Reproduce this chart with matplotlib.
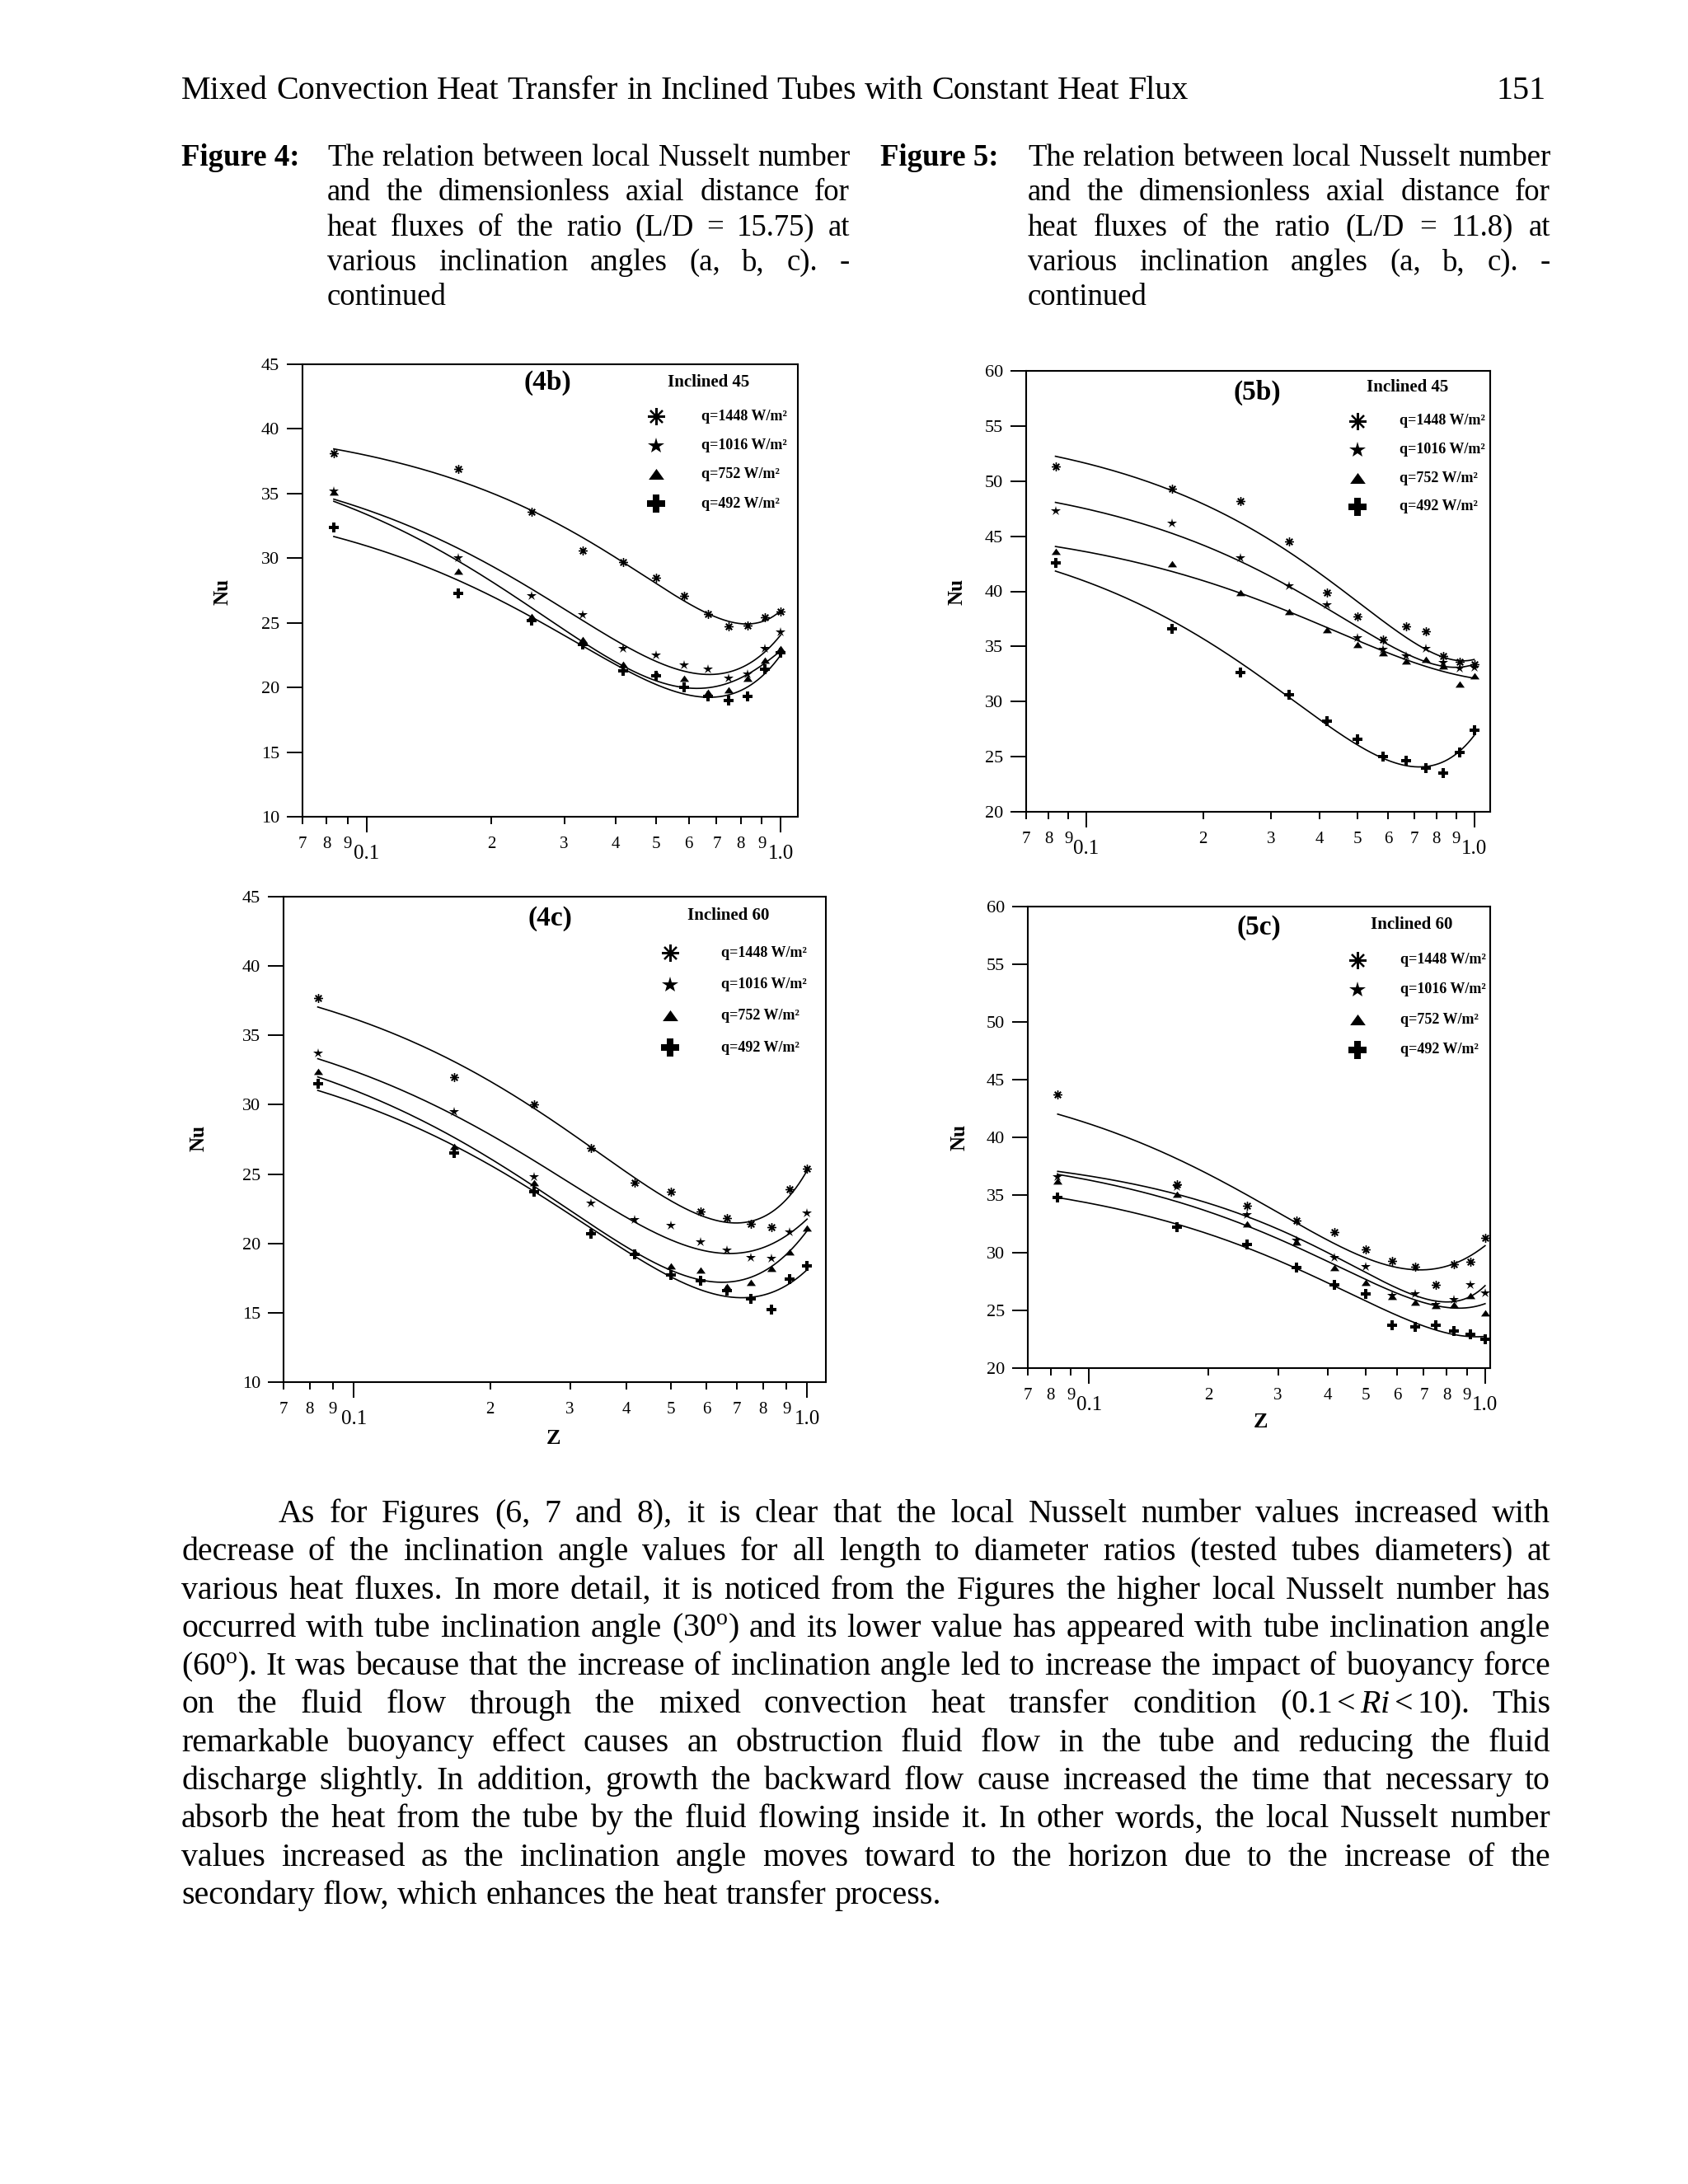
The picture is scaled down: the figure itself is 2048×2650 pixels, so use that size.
import numpy as np
import matplotlib
matplotlib.use('Agg')
import matplotlib.pyplot as plt

plt.rcParams['font.family'] = ['Liberation Serif', 'DejaVu Serif']
plt.rcParams['mathtext.fontset'] = 'custom'
plt.rcParams['mathtext.rm'] = 'Liberation Serif'
plt.rcParams['mathtext.it'] = 'Liberation Serif:italic'
plt.rcParams['mathtext.bf'] = 'Liberation Serif:bold'

# dimensionless axial distance Z (same stations in every panel)
z = [0.0833, 0.1667, 0.25, 0.3333, 0.4167, 0.5, 0.5833, 0.6667, 0.75, 0.8333, 0.9167, 1.0]
flux_labels = ['q=1448 W/m²', 'q=1016 W/m²', 'q=752 W/m²', 'q=492 W/m²']

# Fig 4b, L/D = 15.75, inclined 45
nu_4b_1448 = [38.1, 36.9, 33.6, 30.6, 29.7, 28.5, 27.1, 25.7, 24.7, 24.8, 25.4, 25.9]
nu_4b_1016 = [35.2, 30.0, 27.1, 25.6, 23.0, 22.5, 21.7, 21.4, 20.7, 21.0, 23.0, 24.3]
nu_4b_752 = [35.1, 29.0, 25.5, 23.7, 21.8, 21.1, 20.7, 19.6, 19.8, 20.7, 22.1, 23.0]
nu_4b_492 = [32.4, 27.3, 25.2, 23.3, 21.3, 20.9, 20.0, 19.3, 19.0, 19.3, 21.4, 22.7]

# Fig 5b, L/D = 11.8, inclined 45
nu_5b_1448 = [51.3, 49.3, 48.2, 44.5, 39.9, 37.7, 35.6, 36.8, 36.4, 34.1, 33.6, 33.4]
nu_5b_1016 = [47.3, 46.2, 43.0, 40.5, 38.8, 35.8, 34.7, 34.1, 34.8, 33.5, 33.0, 33.1]
nu_5b_752 = [43.6, 42.5, 39.9, 38.2, 36.5, 35.2, 34.4, 33.7, 33.8, 33.2, 31.6, 32.3]
nu_5b_492 = [42.6, 36.6, 32.6, 30.6, 28.2, 26.6, 25.0, 24.6, 24.0, 23.5, 25.4, 27.4]

# Fig 4c, L/D = 15.75, inclined 60
nu_4c_1448 = [37.7, 32.0, 30.0, 26.9, 24.4, 23.7, 22.3, 21.8, 21.4, 21.2, 23.9, 25.4]
nu_4c_1016 = [33.7, 29.5, 24.8, 22.9, 21.7, 21.3, 20.1, 19.5, 19.0, 18.9, 20.8, 22.2]
nu_4c_752 = [32.4, 27.0, 24.4, 20.9, 19.4, 18.4, 18.1, 16.9, 17.2, 18.2, 19.4, 21.1]
nu_4c_492 = [31.5, 26.5, 23.7, 20.7, 19.2, 17.7, 17.3, 16.6, 16.0, 15.2, 17.4, 18.4]

# Fig 5c, L/D = 11.8, inclined 60
nu_5c_1448 = [43.7, 35.9, 34.1, 32.8, 31.8, 30.3, 29.3, 28.8, 27.2, 29.0, 29.2, 31.3]
nu_5c_1016 = [36.6, 35.7, 33.3, 31.1, 29.6, 28.8, 26.3, 26.4, 25.5, 25.9, 27.2, 26.5]
nu_5c_752 = [36.2, 35.1, 32.5, 30.9, 28.7, 27.4, 26.2, 25.7, 25.4, 25.5, 26.3, 24.8]
nu_5c_492 = [34.8, 32.2, 30.7, 28.7, 27.2, 26.4, 23.7, 23.6, 23.7, 23.2, 22.9, 22.5]

minor_ticks = [0.07, 0.08, 0.09, 0.2, 0.3, 0.4, 0.5, 0.6, 0.7, 0.8, 0.9]
minor_labels = ['7', '8', '9', '2', '3', '4', '5', '6', '7', '8', '9']
major_ticks = [0.1, 1.0]
major_labels = ['0.1', '1.0']

W, H = 2048, 2650
fig = plt.figure(figsize=(W / 100, H / 100), dpi=100)

tri = [(-1, -0.7), (1, -0.7), (0, 0.7)]
# marker styles: data size, legend size
styles = [
    dict(marker=(8, 2, 0), ms=7.5, mew=1.0, lms=15, lmew=1.6),
    dict(marker='*', ms=9, mew=0, lms=15, lmew=0),
    dict(marker=tri, ms=8, mew=0, lms=13.5, lmew=0),
    dict(marker='P', ms=9, mew=0, lms=16.5, lmew=0),
]

panels = [
    dict(box=(367, 442, 968, 991), ylim=(10, 45), xmax=1.10, tag='(4b)', title='Inclined 45',
         tag_xy=(0.494, 0.960), title_xy=(0.820, 0.960), leg_x=(0.714, 0.806),
         leg_y=[0.885, 0.820, 0.757, 0.692], nu_xy=(270, 718), z_xy=None,
         series=[nu_4b_1448, nu_4b_1016, nu_4b_752, nu_4b_492]),
    dict(box=(1245, 450, 1808, 985), ylim=(20, 60), xmax=1.10, tag='(5b)', title='Inclined 45',
         tag_xy=(0.498, 0.951), title_xy=(0.821, 0.962), leg_x=(0.714, 0.805),
         leg_y=[0.886, 0.821, 0.757, 0.692], nu_xy=(1161, 718), z_xy=None,
         series=[nu_5b_1448, nu_5b_1016, nu_5b_752, nu_5b_492]),
    dict(box=(344, 1088, 1002, 1677), ylim=(10, 45), xmax=1.10, tag='(4c)', title='Inclined 60',
         tag_xy=(0.491, 0.955), title_xy=(0.820, 0.961), leg_x=(0.713, 0.807),
         leg_y=[0.884, 0.819, 0.755, 0.689], nu_xy=(241, 1381), z_xy=(672, 1746),
         series=[nu_4c_1448, nu_4c_1016, nu_4c_752, nu_4c_492]),
    dict(box=(1247, 1100, 1808, 1660), ylim=(20, 60), xmax=1.03, tag='(5c)', title='Inclined 60',
         tag_xy=(0.500, 0.955), title_xy=(0.830, 0.960), leg_x=(0.713, 0.805),
         leg_y=[0.884, 0.820, 0.755, 0.690], nu_xy=(1164, 1380), z_xy=(1529, 1726),
         series=[nu_5c_1448, nu_5c_1016, nu_5c_752, nu_5c_492]),
]

zz = np.linspace(z[0], z[-1], 300)
for p in panels:
    l, t, r, b = p['box']
    ax = fig.add_axes([l / W, 1 - b / H, (r - l) / W, (b - t) / H])
    ax.set_xscale('log')
    ax.set_xlim(0.07, p['xmax'])
    ax.set_ylim(*p['ylim'])
    ax.set_yticks(np.arange(p['ylim'][0], p['ylim'][1] + 1, 5))
    ax.set_xticks(major_ticks, major_labels)
    ax.set_xticks(minor_ticks, minor_labels, minor=True)
    ax.tick_params(axis='x', which='major', length=13.7, width=1.4, pad=11, labelsize=18)
    ax.tick_params(axis='x', which='minor', length=6.5, width=1.4, pad=10.5, labelsize=15)
    ax.tick_params(axis='y', length=14, width=1.4, pad=6, labelsize=16)
    for s in ax.spines.values():
        s.set_linewidth(1.5)

    for nu, st in zip(p['series'], styles):
        # cubic regression curve through the measured points
        c = np.polyfit(z, nu, 3)
        ax.plot(zz, np.polyval(c, zz), color='black', lw=1.2)
        ax.plot(z, nu, ls='none', marker=st['marker'], ms=st['ms'], mew=st['mew'],
                color='black', mec='black')

    ax.text(*p['tag_xy'], p['tag'], transform=ax.transAxes, ha='center', va='center',
            fontsize=24, weight='bold')
    ax.text(*p['title_xy'], p['title'], transform=ax.transAxes, ha='center', va='center',
            fontsize=15, weight='bold')
    for lab, st, yy in zip(flux_labels, styles, p['leg_y']):
        ax.plot([p['leg_x'][0]], [yy], transform=ax.transAxes, ls='none', marker=st['marker'],
                ms=st['lms'], mew=st['lmew'], color='black', mec='black', clip_on=False)
        ax.text(p['leg_x'][1], yy, lab, transform=ax.transAxes, ha='left', va='center',
                fontsize=13, weight='bold')

    fig.text(p['nu_xy'][0] / W, 1 - p['nu_xy'][1] / H, 'Nu', rotation=90, ha='center',
             va='center', fontsize=18, weight='bold')
    if p['z_xy']:
        fig.text(p['z_xy'][0] / W, 1 - p['z_xy'][1] / H, 'Z', ha='center', va='center',
                 fontsize=19, weight='bold')

renderer = fig.canvas.get_renderer()


def text_line(s, x0, y, size, x1=None, weight='normal'):
    # place words one by one so that a line can be justified between x0 and x1
    words = s.split(' ')
    arts = [fig.text(x0 / W, 1 - y / H, w, fontsize=size, weight=weight, ha='left',
                     va='baseline') for w in words]
    widths = [a.get_window_extent(renderer).width for a in arts]
    if x1 is None or len(words) == 1:
        gap = size * 100 / 72 * 0.25
    else:
        gap = (x1 - x0 - sum(widths)) / (len(words) - 1)
    x = x0
    for a, wd in zip(arts, widths):
        a.set_x(x / W)
        x += wd + gap


# running head
text_line('Mixed Convection Heat Transfer in Inclined Tubes with Constant Heat Flux', 220, 120, 28.9)
fig.text(1876 / W, 1 - 120 / H, '151', fontsize=28.9, ha='right', va='baseline')

# captions
cap4 = ['The relation between local Nusselt number',
        'and the dimensionless axial distance for',
        'heat fluxes of the ratio (L/D = 15.75) at',
        'various inclination angles (a, b, c). -',
        'continued']
cap5 = ['The relation between local Nusselt number',
        'and the dimensionless axial distance for',
        'heat fluxes of the ratio (L/D = 11.8) at',
        'various inclination angles (a, b, c). -',
        'continued']
cap_y = [201, 243, 286, 328, 370]
fig.text(220 / W, 1 - cap_y[0] / H, 'Figure 4:', fontsize=26.5, weight='bold', va='baseline')
fig.text(1068 / W, 1 - cap_y[0] / H, 'Figure 5:', fontsize=26.5, weight='bold', va='baseline')
for i, (a, b) in enumerate(zip(cap4, cap5)):
    last = i == len(cap4) - 1
    text_line(a, 397, cap_y[i], 26.5, None if last else 1031)
    text_line(b, 1247, cap_y[i], 26.5, None if last else 1881)

# body paragraph
body = [
    'As for Figures (6, 7 and 8), it is clear that the local Nusselt number values increased with',
    'decrease of the inclination angle values for all length to diameter ratios (tested tubes diameters) at',
    'various heat fluxes. In more detail, it is noticed from the Figures the higher local Nusselt number has',
    r'occurred with tube inclination angle (30$^{\mathrm{o}}$) and its lower value has appeared with tube inclination angle',
    r'(60$^{\mathrm{o}}$). It was because that the increase of inclination angle led to increase the impact of buoyancy force',
    r'on the fluid flow through the mixed convection heat transfer condition $(0.1<Ri<10)$. This',
    'remarkable buoyancy effect causes an obstruction fluid flow in the tube and reducing the fluid',
    'discharge slightly. In addition, growth the backward flow cause increased the time that necessary to',
    'absorb the heat from the tube by the fluid flowing inside it. In other words, the local Nusselt number',
    'values increased as the inclination angle moves toward to the horizon due to the increase of the',
    'secondary flow, which enhances the heat transfer process.',
]
for i, line in enumerate(body):
    y = 1847 + i * 46.3
    x0 = 338 if i == 0 else 220
    text_line(line, x0, y, 28.7, None if i == len(body) - 1 else 1881)

fig.savefig('out.png', dpi=100, facecolor='white')
